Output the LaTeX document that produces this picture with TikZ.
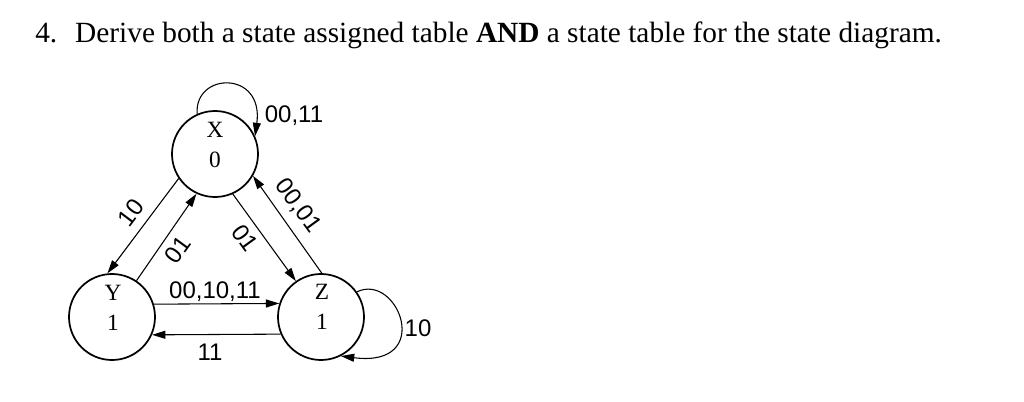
\documentclass[tikz,border=0pt]{standalone}
\usepackage{fontspec}
\setmainfont{Liberation Serif}
\newfontfamily\labelfont{Liberation Sans}
\usetikzlibrary{arrows.meta}
\begin{document}
\begin{tikzpicture}[x=0.75pt,y=-0.75pt,
  state/.style={circle,draw,line width=1.3pt,minimum size=64.5pt,inner sep=0pt},
  statetext/.style={align=center,font=\fontsize{17.5}{22.5}\selectfont,inner sep=0pt},
  edge/.style={draw,line width=0.8pt,-{Triangle[length=10pt,width=6pt]}},
  lbl/.style={font=\labelfont\fontsize{18}{18}\selectfont,inner sep=0pt}]
\useasboundingbox[fill=white] (0,0) rectangle (1024,402);

\node[anchor=base west,inner sep=0pt,font=\fontsize{22}{26}\selectfont] (title) at (35,43)
  {4.\hspace*{13.5pt}Derive both a state assigned table \textbf{AND} a state table for the state diagram.};

\node[state] (X) at (215,154) {};
\node[state] (Y) at (112,317) {};
\node[state] (Z) at (321,317) {};

\node[statetext] (Xt) at (215,145) {X\\0};
\node[statetext] (Yt) at (113,308) {Y\\1};
\node[statetext] (Zt) at (322,307) {Z\\1};

% diagonal edges
\draw[edge] (X.214) -- (Y.96);
\draw[edge] (Y.56.7) -- (X.245);
\draw[edge] (X.294) -- (Z.125);
\draw[edge] (Z.89) -- (X.330);

% horizontal edges
\draw[edge] (Y.17.6) -- (Z.162.4);
\draw[edge] (Z.203.3) -- (Y.336.7);

% self loops
\draw[edge] (X.114) .. controls (194,72) and (264,70) .. (X.24);
\draw[edge] (Z.35) .. controls (398,272) and (435,368) .. (Z.297);

% labels
\node[lbl] (l1) at (294,116) {00,11};
\node[lbl,rotate=53] (l2) at (131,213) {10};
\node[lbl,rotate=54] (l3) at (178,250) {01};
\node[lbl,rotate=-54] (l4) at (245,238) {01};
\node[lbl,rotate=-54] (l5) at (298,206) {00,01};
\node[lbl] (l6) at (215,292) {00,10,11};
\node[lbl] (l7) at (210,352) {11};
\node[lbl] (l8) at (418,328) {10};
\end{tikzpicture}
\end{document}
